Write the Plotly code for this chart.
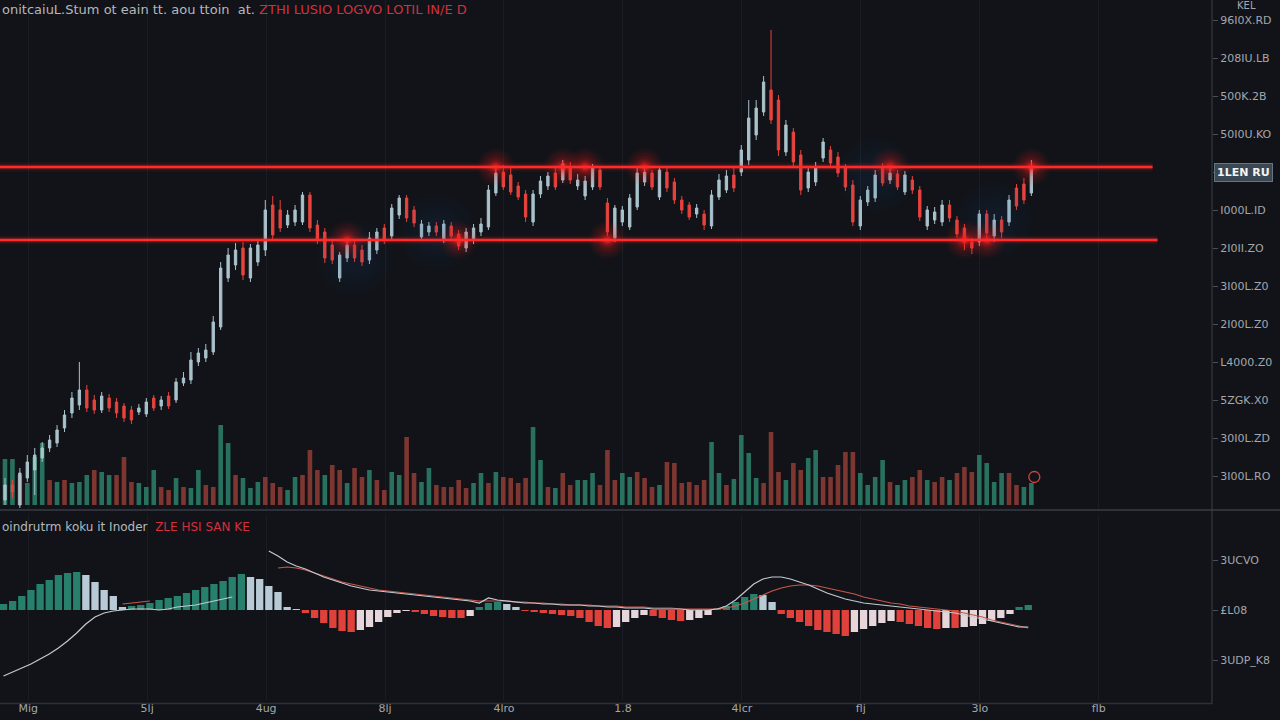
import plotly.graph_objects as go

# ---------------- price session data ----------------
opens = [1000, 1150, 950, 1220, 1300, 1420, 1520, 1570, 1720, 1870,
         1950, 2100, 2000, 1900, 2020, 1980, 1940, 1900, 1880, 1860,
         2020, 1940, 2040, 2000, 2170, 2200, 2380, 2420, 2480, 2730,
         3220, 3350, 3520, 3220, 3380, 3500, 3950, 3900, 3750, 3780,
         3780, 4050, 3750, 3680, 3550, 3220, 3420, 3550, 3500, 3400,
         3500, 3720, 3640, 3850, 4020, 3900, 3630, 3680, 3740, 3600,
         3740, 3660, 3520, 3600, 3680, 3730, 4070, 4280, 4250, 4140,
         4060, 3780, 4060, 4140, 4270, 4200, 4320, 4140, 4040, 4130,
         4300, 3970, 3620, 3780, 3730, 3930, 4180, 4270, 4030, 4280,
         4180, 4000, 3950, 3860, 3860, 3740, 4030, 4100, 4250, 4280,
         4400, 4650, 4880, 5100, 5000, 4480, 4680, 4450, 4120, 4180,
         4420, 4500, 4430, 4320, 4150, 3740, 3980, 4020, 4320, 4200,
         4260, 4080, 4200, 4100, 3740, 3800, 3780, 3950, 3800, 3720,
         3580, 3580, 3860, 3640, 3800, 3780, 4120, 4160, 4070]
closes = [1150, 1080, 1270, 1380, 1450, 1520, 1600, 1700, 1850, 2020,
          2100, 1920, 1900, 2040, 1920, 1870, 1820, 1800, 1920, 1980,
          1920, 2000, 1940, 2180, 2220, 2400, 2470, 2500, 2780, 3320,
          3450, 3500, 3250, 3520, 3550, 3900, 3650, 3720, 3850, 3900,
          4050, 3720, 3600, 3420, 3400, 3450, 3550, 3420, 3380, 3620,
          3680, 3600, 3920, 4020, 3820, 3770, 3760, 3740, 3680, 3760,
          3640, 3540, 3680, 3720, 3760, 4100, 4270, 4130, 4080, 4030,
          3830, 4060, 4190, 4240, 4130, 4360, 4200, 4200, 4190, 4320,
          4130, 3680, 3920, 3900, 4020, 4270, 4280, 4130, 4300, 4120,
          4000, 3900, 3830, 3920, 3750, 4050, 4200, 4240, 4120, 4500,
          4820, 4920, 5180, 4800, 4500, 4750, 4380, 4100, 4280, 4320,
          4580, 4370, 4270, 4130, 3780, 4000, 4100, 4250, 4170, 4270,
          4130, 4250, 4100, 3830, 3900, 3880, 3950, 3820, 3660, 3580,
          3520, 3860, 3670, 3800, 3680, 4000, 3940, 4000, 4320]
highs = [1220, 1200, 1320, 1450, 1520, 1580, 1650, 1750, 1900, 2080,
         2380, 2150, 2050, 2080, 2060, 2020, 1970, 1940, 1960, 2020,
         2050, 2040, 2080, 2220, 2280, 2480, 2520, 2560, 2840, 3380,
         3520, 3570, 3580, 3560, 3600, 4000, 4040, 4000, 3900, 3950,
         4080, 4080, 3800, 3720, 3600, 3480, 3590, 3600, 3550, 3680,
         3720, 3760, 3960, 4050, 4050, 3940, 3800, 3780, 3780, 3800,
         3780, 3700, 3720, 3760, 3820, 4150, 4330, 4350, 4320, 4180,
         4100, 4100, 4240, 4280, 4320, 4400, 4380, 4260, 4240, 4360,
         4340, 4020, 3950, 3940, 4060, 4320, 4340, 4300, 4340, 4320,
         4220, 4040, 3980, 3960, 3900, 4100, 4260, 4300, 4320, 4550,
         5000, 5000, 5240, 5700, 5050, 4800, 4720, 4500, 4340, 4380,
         4620, 4540, 4480, 4360, 4200, 4040, 4140, 4300, 4370, 4320,
         4300, 4290, 4240, 4140, 3940, 3930, 4000, 4000, 3840, 3760,
         3620, 3900, 3900, 3860, 3840, 4050, 4160, 4220, 4400]
lows = [950, 1020, 920, 1180, 1050, 1380, 1480, 1530, 1680, 1820,
        1900, 1880, 1860, 1870, 1880, 1820, 1780, 1760, 1850, 1830,
        1890, 1900, 1910, 1970, 2140, 2160, 2340, 2380, 2450, 2700,
        3180, 3300, 3200, 3180, 3340, 3440, 3600, 3680, 3720, 3740,
        3750, 3680, 3560, 3370, 3360, 3180, 3380, 3380, 3340, 3360,
        3460, 3560, 3600, 3810, 3780, 3730, 3600, 3640, 3640, 3570,
        3600, 3500, 3480, 3560, 3640, 3700, 4040, 4100, 4050, 4000,
        3780, 3740, 4020, 4100, 4100, 4170, 4160, 4100, 4000, 4100,
        4100, 3640, 3580, 3740, 3700, 3900, 4140, 4100, 4000, 4080,
        3960, 3860, 3800, 3820, 3700, 3710, 4000, 4070, 4080, 4240,
        4350, 4600, 4840, 4760, 4440, 4440, 4340, 4050, 4080, 4140,
        4380, 4330, 4230, 4090, 3740, 3700, 3940, 3980, 4140, 4160,
        4100, 4050, 4060, 3790, 3700, 3760, 3740, 3780, 3620, 3500,
        3460, 3540, 3620, 3580, 3620, 3740, 3900, 3960, 4040]
volumes = [4600, 4600, 3000, 2200, 4800, 6200, 2500, 2300, 2500, 2200,
           2300, 3000, 3500, 3300, 3000, 3000, 4800, 2300, 2200, 1800,
           3500, 1800, 1500, 2700, 1800, 1700, 3500, 2000, 1800, 8000,
           6200, 3000, 2700, 1700, 2300, 2800, 2200, 1800, 1500, 2800,
           3000, 5500, 3500, 3000, 4000, 3500, 2200, 3700, 2800, 3500,
           2500, 1500, 3300, 3000, 6800, 3200, 2300, 3700, 2000, 1800,
           1800, 2500, 1700, 2200, 3200, 2200, 3300, 2800, 2700, 2200,
           2700, 7800, 4500, 1800, 1700, 3200, 2000, 2500, 2500, 3200,
           2000, 5500, 2500, 3200, 2800, 3300, 2700, 1800, 2000, 4300,
           4200, 2200, 2300, 2000, 2500, 6300, 3200, 2000, 2600, 7000,
           5200, 2700, 2200, 7300, 3300, 2500, 4200, 3500, 4700, 5500,
           2800, 2800, 4000, 5300, 5300, 3200, 2000, 2800, 4500, 2300,
           2000, 2500, 2800, 3500, 2500, 2300, 2800, 2500, 3200, 3800,
           3300, 5000, 4200, 2300, 3200, 3200, 2000, 1800, 2200]
# b = buyer-driven session, s = seller-driven session
vol_side = list("bbsbbbsbsb" "bbsbbsssbb" "bssbsbbssb" "bsbbbsssbb"
                "sssbssbssb" "ssbbssbbss" "sssbbsbsss" "sbbsbssbbb"
                "sssbbsssbs" "sssssbbsbb" "bbsssbssbb" "sssssbbbbs"
                "bbssbssbss" "sbbbbssbb")

resistance = 4330
support = 3600
res_touches = [66, 75, 78, 86, 119, 138]
sup_touches = [46, 61, 81, 129, 132]
haze_sessions = [47, 58, 117, 133]

# ---------------- momentum panel data ----------------
macd_hist = [6, 9, 14, 20, 26, 30, 35, 37, 38, 35,
             28, 20, 14, 3, 4, 5, 7, 10, 12, 14,
             17, 20, 23, 26, 29, 33, 36, 33, 31, 24,
             18, 3, 1, -3, -8, -13, -18, -21, -22, -20,
             -17, -12, -7, -3, -1, -2, -4, -6, -7, -8,
             -8, -6, 3, 7, 8, 6, 3, -1, -2, -3,
             -4, -5, -6, -8, -12, -16, -18, -17, -12, -8,
             -5, -6, -8, -10, -11, -10, -8, -5, 2, 4,
             8, 13, 16, 15, 8, -4, -8, -12, -16, -20,
             -22, -24, -26, -22, -19, -16, -13, -11, -12, -14,
             -16, -18, -19, -18, -18, -17, -16, -14, -11, -8,
             -4, 3, 5]
N = None
macd_line = [-66, -62, -58, -54, -49, -44, -38, -31, -23, -14,
             -7, -3, -1, 0, 1, 1, 1, 0, 1, 3,
             4, 5, 7, 9, 11, 13, N, N, N, 59,
             54, 48, 44, 41, 37, 33, 30, 27, 24, 22,
             20, 19, 18, 17, 16, 15, 14, 13, 12, 11,
             10, 9, 7, 12, 10, 9, 8, 7, 7, 6,
             6, 5, 5, 5, 4, 4, 3, 3, 2, 2,
             2, 1, 1, 1, 1, 0, 0, 0, 1, 4,
             10, 18, 26, 31, 33, 33, 31, 28, 25, 21,
             17, 14, 11, 9, 7, 6, 5, 4, 3, 2,
             1, 0, -1, -2, -3, -5, -7, -9, -11, -13,
             -15, -17, -17]
signal_line = [N, N, N, N, N, N, N, N, N, N,
               N, N, N, 6, 7, 8, 9, N, N, N,
               N, N, N, N, N, N, N, N, N, N,
               42, 43, 42, 40, 37, 34, 31, 28, 26, 24,
               22, 20, 19, 18, 17, 16, 15, 14, 13, 12,
               11, 10, 9, 9, 9, 9, 8, 8, 7, 7,
               6, 6, 5, 5, 5, 4, 4, 4, 3, 3,
               3, 2, 2, 2, 1, 1, 1, 1, 1, 2,
               4, 7, 11, 15, 19, 22, 24, 25, 25, 24,
               22, 20, 18, 16, 13, 11, 9, 7, 6, 4,
               3, 2, 1, 0, -1, -3, -5, -7, -10, -12,
               -14, -16, -18]

# ---------------- axis text ----------------
price_ticks = [5800, 5420, 5040, 4660, 4280, 3900, 3520, 3140, 2760, 2380, 2000, 1620, 1240]
price_tick_text = ["96I0X.RD", "208IU.LB", "500K.2B", "50I0U.KO", "", "I000L.ID", "2I0II.ZO",
                   "3I00L.Z0", "2I00L.Z0", "L4000.Z0", "5ZGK.X0", "30I0L.ZD", "3I00L.RO"]
last_price_text = "1LEN RU"
price_corner_text = "KEL"
macd_ticks = [50, 0, -50]
macd_tick_text = ["3UCVO", "£L08", "3UDP_K8"]
x_tick_text = ["Mig", "5lj", "4ug", "8lj", "4lro", "1.8", "4lcr", "flj", "3lo", "flb"]
title_grey = "onitcaiuL.Stum ot eain tt. aou ttoin  at."
title_red = "ZTHI LUSIO LOGVO LOTIL IN/E D"
macd_grey = "oindrutrm koku it Inoder"
macd_red = "ZLE HSI SAN KE"

# ---------------- styling ----------------
BG = "#111318"
UP = "#a9c2cb"
DOWN = "#e8433d"
VOL_BUY = "#2b7c67"
VOL_SELL = "#8a3a34"
LEVEL = "#ff2b2b"
AXIS_TXT = "#a4a7ad"
FONT = "Liberation Sans Narrow, DejaVu Sans, sans-serif"

n = len(closes)
sessions = list(range(n))
bars = list(range(len(macd_hist)))

# x ranges of the two panels (same pixel width, different bar spacing)
PX0, PX1 = -0.672, 162.29
MX0, MX1 = -0.3825, 132.08
label_pos = [2.7 + 13 * k for k in range(len(x_tick_text))]
grid_pos = [PX0 + (m - MX0) / (MX1 - MX0) * (PX1 - PX0) for m in label_pos]

# histogram colour: growing vs fading momentum
hist_colors = []
for i, v in enumerate(macd_hist):
    prev = macd_hist[i - 1] if i else 0
    if v >= 0:
        hist_colors.append("#26806b" if v >= prev else "#b8cad6")
    else:
        hist_colors.append("#e0413a" if v <= prev else "#e6d6da")

fig = go.Figure()

# volume (base axis of the upper panel)
fig.add_trace(go.Bar(
    x=sessions, y=volumes, xaxis="x", yaxis="y",
    marker=dict(color=[VOL_BUY if s == "b" else VOL_SELL for s in vol_side], line_width=0),
    width=0.62, opacity=0.9, hoverinfo="skip"))

# soft haze behind some clusters, built from stacked translucent discs
for size in range(30, 86, 8):
    fig.add_trace(go.Scatter(
        x=haze_sessions, y=[closes[i] for i in haze_sessions], xaxis="x", yaxis="y3",
        mode="markers", marker=dict(size=size, color="rgba(60,95,130,0.018)", line_width=0),
        hoverinfo="skip"))

# candles
fig.add_trace(go.Candlestick(
    x=sessions, open=opens, high=highs, low=lows, close=closes, xaxis="x", yaxis="y3",
    increasing=dict(line=dict(color=UP, width=1), fillcolor=UP),
    decreasing=dict(line=dict(color=DOWN, width=1), fillcolor=DOWN),
    whiskerwidth=0, hoverinfo="skip"))

# glowing touch points on the two levels: wide faint halo, brighter core
touch_x = res_touches + sup_touches
touch_y = [resistance] * len(res_touches) + [support] * len(sup_touches)
for size, alpha in [(38, 0.04), (33, 0.05), (28, 0.06), (23, 0.08), (18, 0.11),
                    (14, 0.15), (10, 0.22), (7, 0.35), (4, 0.6)]:
    fig.add_trace(go.Scatter(
        x=touch_x, y=touch_y, xaxis="x", yaxis="y3", mode="markers",
        marker=dict(size=size, color=f"rgba(255,30,30,{alpha})", line_width=0),
        hoverinfo="skip"))

# ring on the latest volume bar
fig.add_trace(go.Scatter(
    x=[sessions[-1] + 0.4], y=[volumes[-1] + 600], xaxis="x", yaxis="y", mode="markers",
    marker=dict(symbol="circle-open", size=11, color="#d8423c", line=dict(width=1.3)),
    hoverinfo="skip"))

# momentum histogram and lines
fig.add_trace(go.Bar(
    x=bars, y=macd_hist, xaxis="x2", yaxis="y2", width=0.8,
    marker=dict(color=hist_colors, line_width=0), hoverinfo="skip"))
fig.add_trace(go.Scatter(
    x=bars, y=signal_line, xaxis="x2", yaxis="y2", mode="lines",
    line=dict(color="#c9574a", width=1.2), connectgaps=False, hoverinfo="skip"))
fig.add_trace(go.Scatter(
    x=bars, y=macd_line, xaxis="x2", yaxis="y2", mode="lines",
    line=dict(color="#c3cad1", width=1.2), connectgaps=False, hoverinfo="skip"))

split = 1 - 510 / 700
shapes = []
for level, x_end in [(resistance, 0.951), (support, 0.955)]:
    for w, col in [(9, "rgba(255,40,40,0.08)"), (5, "rgba(255,40,40,0.2)"), (2.4, LEVEL)]:
        shapes.append(dict(type="line", xref="paper", yref="y3", x0=0, x1=x_end,
                           y0=level, y1=level, line=dict(color=col, width=w), layer="above"))
shapes += [
    dict(type="line", xref="paper", yref="paper", x0=1, x1=1, y0=-0.006, y1=1,
         line=dict(color="#353942", width=1.2)),
    dict(type="line", xref="paper", yref="paper", x0=0, x1=1.06, y0=split, y1=split,
         line=dict(color="#3a3d46", width=1.5)),
    dict(type="line", xref="paper", yref="paper", x0=0, x1=1, y0=-0.005, y1=-0.005,
         line=dict(color="#2c3038", width=1.5)),
]

annotations = [
    dict(xref="paper", yref="paper", x=0, y=1 - 10 / 700, xanchor="left", yanchor="middle",
         showarrow=False, font=dict(family=FONT, size=13, color="#b5b8bd"),
         text=f"{title_grey} <span style='color:#d3303e'>{title_red}</span>"),
    dict(xref="paper", yref="paper", x=0, y=(700 - 527) / 700, xanchor="left", yanchor="middle",
         showarrow=False, font=dict(family=FONT, size=12, color="#b5b8bd"),
         text=f"{macd_grey}  <span style='color:#d3303e'>{macd_red}</span>"),
    dict(xref="paper", yref="y3", x=1, y=price_ticks[4], xanchor="left", yanchor="middle",
         xshift=2, showarrow=False, text=f"<b>{last_price_text}</b>",
         font=dict(family=FONT, size=11, color="#f2f4f6"),
         bgcolor="#3a4853", bordercolor="#66757f", borderwidth=1, borderpad=2),
    dict(xref="paper", yref="paper", x=1 + 34 / 1212, y=1 - 6 / 700, xanchor="center",
         yanchor="middle", showarrow=False, text=price_corner_text,
         font=dict(family=FONT, size=10, color=AXIS_TXT)),
]

fig.update_layout(
    width=1280, height=720,
    margin=dict(l=0, r=68, t=0, b=20),
    paper_bgcolor=BG, plot_bgcolor=BG,
    showlegend=False, boxgap=0.55, bargap=0.2,
    font=dict(family=FONT, color=AXIS_TXT),
    shapes=shapes, annotations=annotations,
    xaxis=dict(domain=[0, 1], anchor="y", range=[PX0, PX1], rangeslider=dict(visible=False),
               tickvals=grid_pos, showticklabels=False, ticks="", showgrid=True,
               gridcolor="#1a1d24", gridwidth=1, zeroline=False, showline=False,
               automargin=False),
    yaxis=dict(domain=[split, 1], anchor="x", range=[-500, 50500], visible=False,
               showgrid=False, zeroline=False, fixedrange=True),
    yaxis3=dict(overlaying="y", anchor="x", side="right", range=[900, 6000],
                tickvals=price_ticks, ticktext=price_tick_text, ticks="outside", ticklen=5,
                tickcolor="#4a4e57", tickfont=dict(family=FONT, size=11, color=AXIS_TXT),
                showgrid=False, zeroline=False, showline=False, automargin=False),
    xaxis2=dict(domain=[0, 1], anchor="y2", range=[MX0, MX1], tickvals=label_pos,
                ticktext=x_tick_text, ticks="", tickfont=dict(family=FONT, size=11, color=AXIS_TXT),
                showgrid=True, gridcolor="#1a1d24", zeroline=False, showline=False,
                automargin=False),
    yaxis2=dict(domain=[0, (700 - 515) / 700], anchor="x2", side="right", range=[-90, 95],
                tickvals=macd_ticks, ticktext=macd_tick_text, ticks="outside", ticklen=5,
                tickcolor="#4a4e57", tickfont=dict(family=FONT, size=11, color=AXIS_TXT),
                showgrid=False, zeroline=False, showline=False, automargin=False),
)

fig.write_html("out.html")
